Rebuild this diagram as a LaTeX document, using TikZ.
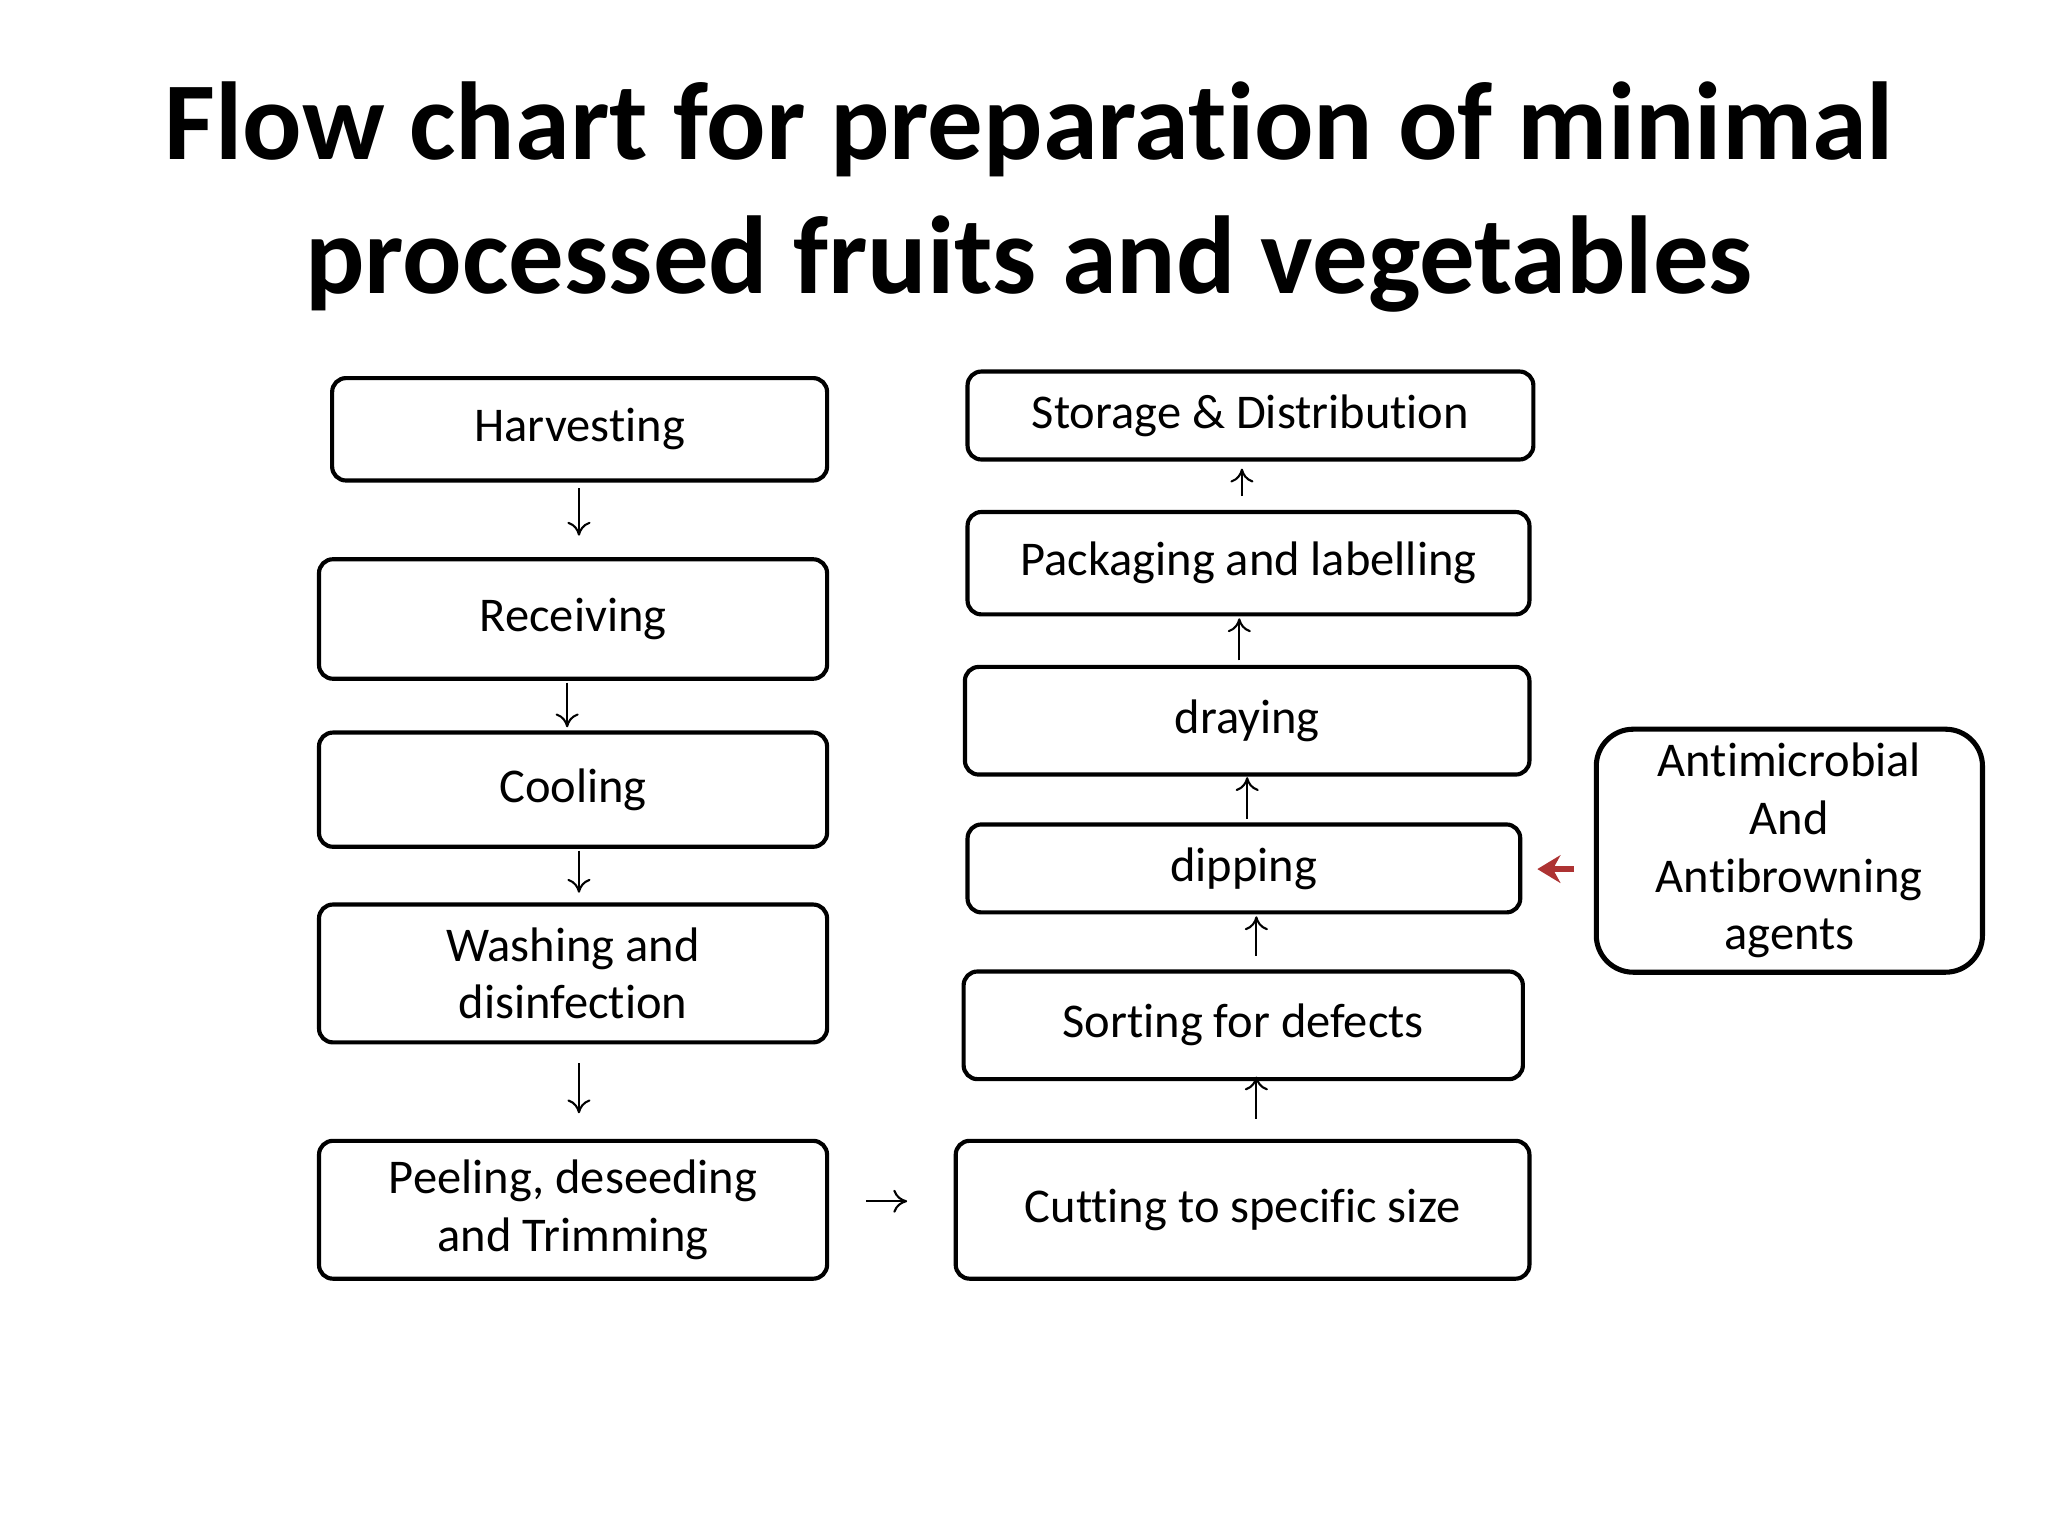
\documentclass[tikz,border=0pt]{standalone}
\usepackage{fontspec}
\setmainfont{Carlito}[Ligatures={NoCommon,NoDiscretionary,NoRare}]
\usetikzlibrary{arrows.meta}
\begin{document}
\begin{tikzpicture}[x=0.01cm,y=-0.01cm,
  bx/.style={draw,line width=0.9pt,rounded corners=3pt,inner sep=0pt,font=\fontsize{10.5}{12.5}\selectfont,align=center},
  ar/.style={-{To[length=3pt,width=5pt]},line width=0.45pt}]
\useasboundingbox (0,0) rectangle (1560,1170);
\fill[white] (0,0) rectangle (1560,1170);
\node[font=\bfseries\fontsize{24}{29}\selectfont,align=center] (title) at (784,150) {Flow chart for preparation of minimal\\processed fruits and vegetables};
\newcommand\bxn[6]{\node[bx,minimum width={(#4-#2)*0.01cm},minimum height={(#5-#3)*0.01cm}] (#1) at ({(#2+#4)/2},{(#3+#5)/2}) {#6};}
\bxn{h}{253}{288}{630}{366}{Harvesting}
\bxn{r}{243}{426}{630}{517}{Receiving}
\bxn{c}{243}{558}{630}{645}{Cooling}
\bxn{w}{243}{689}{630}{794}{Washing and\\disinfection}
\bxn{p}{243}{869}{630}{974}{Peeling, deseeding\\and Trimming}
\bxn{cut}{728}{869}{1165}{974}{Cutting to specific size}
\bxn{s}{734}{740}{1160}{822}{Sorting for defects}
\bxn{d}{737}{628}{1158}{695}{dipping}
\bxn{dr}{735}{508}{1165}{590}{draying}
\bxn{pk}{737}{390}{1165}{468}{Packaging and labelling}
\bxn{st}{737}{283}{1168}{350}{Storage \& Distribution}
\node[bx,line width=1.1pt,rounded corners=8pt,minimum width=2.94cm,minimum height=1.85cm] (am) at (1363,648) {Antimicrobial\\And\\Antibrowning\\agents};
\coordinate (a1) at (441,372); \coordinate (b1) at (441,408);
\coordinate (a2) at (432,520); \coordinate (b2) at (432,554);
\coordinate (a3) at (441,648); \coordinate (b3) at (441,680);
\coordinate (a4) at (441,810); \coordinate (b4) at (441,848);
\coordinate (a5) at (660,915); \coordinate (b5) at (691,915);
\coordinate (a6) at (957,852); \coordinate (b6) at (957,820);
\coordinate (a7) at (957,728); \coordinate (b7) at (957,698);
\coordinate (a8) at (950,624); \coordinate (b8) at (950,592);
\coordinate (a9) at (944,503); \coordinate (b9) at (944,471);
\coordinate (a10) at (946,378); \coordinate (b10) at (946,357);
\coordinate (a11) at (1199,662); \coordinate (b11) at (1171,662);
\foreach \i in {1,...,10} \draw[ar] (a\i) -- (b\i);
\draw[-{Stealth[length=5pt,width=6pt]},line width=1.2pt,red!60!black!80] (a11) -- (b11);
\end{tikzpicture}
\end{document}
